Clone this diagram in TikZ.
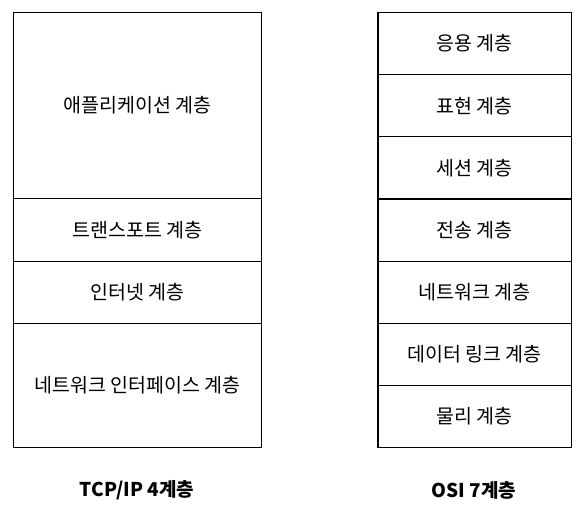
\documentclass[tikz,border=0pt]{standalone}
\usepackage{fontspec}
\setmainfont{Noto Sans CJK KR}
\begin{document}
\begin{tikzpicture}[x=1pt,y=-1pt,
  layer/.style={draw=black,line width=1.2pt,minimum width=#1,inner sep=0pt,font=\fontsize{19.5}{22}\selectfont,anchor=north west},
  caption/.style={font=\fontsize{19}{22}\selectfont\bfseries}]
\useasboundingbox (0,0) rectangle (587,512);
% left stack
\node[layer=248pt,minimum height=186pt] (app) at (13,12) {애플리케이션 계층};
\node[layer=248pt,minimum height=62.5pt] (trans) at (13,198) {트랜스포트 계층};
\node[layer=248pt,minimum height=62.5pt] (inet) at (13,260.5) {인터넷 계층};
\node[layer=248pt,minimum height=124pt] (nif) at (13,323) {네트워크 인터페이스 계층};
% right stack
\node[layer=193.5pt,minimum height=62.14pt] (o7) at (377.3,12) {응용 계층};
\node[layer=193.5pt,minimum height=62.14pt] (o6) at (377.3,74.14) {표현 계층};
\node[layer=193.5pt,minimum height=62.14pt] (o5) at (377.3,136.28) {세션 계층};
\node[layer=193.5pt,minimum height=62.14pt] (o4) at (377.3,198.42) {전송 계층};
\node[layer=193.5pt,minimum height=62.14pt] (o3) at (377.3,260.56) {네트워크 계층};
\node[layer=193.5pt,minimum height=62.14pt] (o2) at (377.3,322.7) {데이터 링크 계층};
\node[layer=193.5pt,minimum height=62.14pt] (o1) at (377.3,384.84) {물리 계층};
% captions
\node[caption] (tcpcap) at (137,490) {TCP/IP 4계층};
\node[caption] (osicap) at (474,490) {OSI 7계층};
\end{tikzpicture}
\end{document}
